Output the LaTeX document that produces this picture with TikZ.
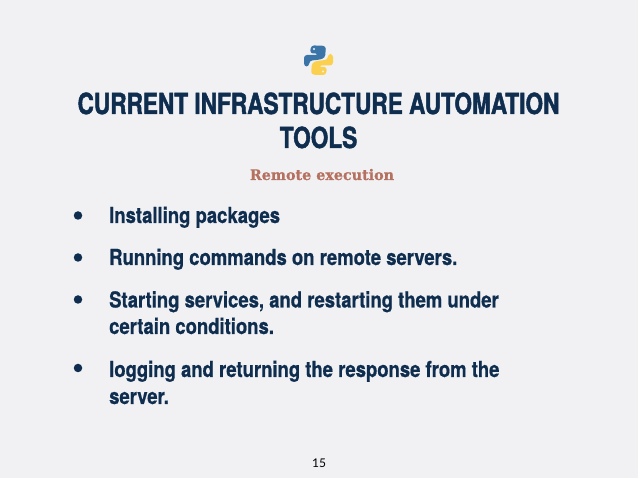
\documentclass[tikz,border=0pt]{standalone}
\usepackage{fontspec}
\setmainfont{TeX Gyre Heros}
\newfontfamily\headfont[FakeStretch=0.78,FakeBold=1.6]{TeX Gyre Heros Bold}
\newfontfamily\itemfont[FakeStretch=0.84,FakeBold=0.7]{TeX Gyre Heros Bold}
\newfontfamily\subfont[FakeStretch=0.98,FakeBold=0.6]{DejaVu Serif Bold}
\newfontfamily\pagefont{Lato}
\usepackage{xcolor}
\definecolor{slatebg}{HTML}{F1F1F4}
\definecolor{navy}{HTML}{0F2E4F}
\definecolor{clay}{HTML}{B5705F}
\definecolor{pyblue}{HTML}{3B75A8}
\definecolor{pyyellow}{HTML}{FBD04F}
\usetikzlibrary{
    positioning
}

\begin{document}
\begin{tikzpicture}[x=1pt, y=-1pt,
    title-node/.style={anchor=base, text=navy, font=\headfont\fontsize{29}{29}\selectfont, inner sep=0pt},
    sub-node/.style={anchor=base, text=clay, font=\subfont\fontsize{14.6}{14.6}\selectfont, inner sep=0pt},
    item-node/.style={anchor=base west, text=navy, font=\itemfont\fontsize{22}{22}\selectfont, inner sep=0pt},
    bullet-node/.style={circle, fill=navy, minimum size=8.5pt, inner sep=0pt}]
    \fill[slatebg] (0,0) rectangle (638,478);
    % logo
    \fill[pyblue, rounded corners=3pt] (318.5,45.5) -- (311,45.5) -- (310,53.5) -- (318.5,53.5) -- (318.5,55) -- (304,55) -- (304,66.5) -- (309,66.5) -- (309.5,60.5) -- (318,60) -- (325,58) -- (326,46) -- cycle;
    \fill[pyyellow, rounded corners=3pt] (318.5,75) -- (326,75) -- (327,67) -- (318.5,67) -- (318.5,65.5) -- (333,65.5) -- (333,54) -- (328,54) -- (327.5,60) -- (319,60.5) -- (312,62.5) -- (311,74.5) -- cycle;
    \fill[slatebg] (314,49) circle (1.2pt) (323,71.5) circle (1.2pt);
    % heading
    \node[title-node] (title-one) at (318.5,114) {CURRENT INFRASTRUCTURE AUTOMATION};
    \node[title-node] (title-two) at (318.5,148) {TOOLS};
    \node[sub-node] (subtitle) at (322,180) {Remote execution};
    % list
    \node[bullet-node] (dot-one) at (78,215.5) {};
    \node[bullet-node] (dot-two) at (78,257.5) {};
    \node[bullet-node] (dot-three) at (78,299.5) {};
    \node[bullet-node] (dot-four) at (78,368) {};
    \node[item-node] (item-one) at (109,223) {Installing packages};
    \node[item-node] (item-two) at (109,265) {Running commands on remote servers.};
    \node[item-node] (item-three) at (109,307.5) {Starting services, and restarting them under};
    \node[item-node] (item-three-b) at (109,334) {certain conditions.};
    \node[item-node] (item-four) at (109,377) {logging and returning the response from the};
    \node[item-node] (item-four-b) at (109,404) {server.};
    \node[anchor=base, text=black, font=\pagefont\fontsize{12}{12}\selectfont, inner sep=0pt] (page-num) at (319,467.5) {15};
\end{tikzpicture}
\end{document}
